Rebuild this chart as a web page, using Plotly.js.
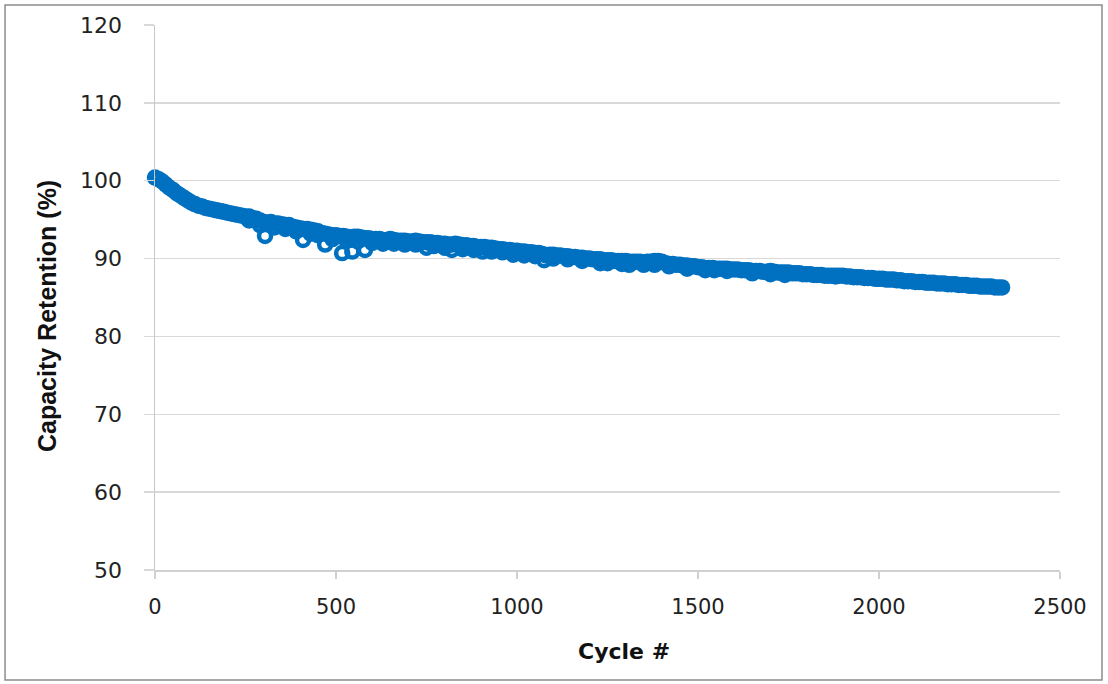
<!DOCTYPE html>
<html>
<head>
<meta charset="utf-8">
<script src="https://cdn.plot.ly/plotly-3.0.1.min.js"></script>
<style>
  html, body { margin: 0; padding: 0; background: #fff; }
  #chart { width: 1108px; height: 684px; }
</style>
</head>
<body>
<div id="chart"></div>
<script>
// cycle number and capacity retention (%), every 10 cycles
const cycles = [
    0, 10, 20, 30, 40, 50, 60, 70, 80, 90, 100,
    110, 120, 130, 140, 150, 160, 170, 180, 190, 200,
    210, 220, 230, 240, 250, 260, 270, 280, 290, 300,
    310, 320, 330, 340, 350, 360, 370, 380, 390, 400,
    410, 420, 430, 440, 450, 460, 470, 480, 490, 500,
    510, 520, 530, 540, 550, 560, 570, 580, 590, 600,
    610, 620, 630, 640, 650, 660, 670, 680, 690, 700,
    710, 720, 730, 740, 750, 760, 770, 780, 790, 800,
    810, 820, 830, 840, 850, 860, 870, 880, 890, 900,
    910, 920, 930, 940, 950, 960, 970, 980, 990, 1000,
    1010, 1020, 1030, 1040, 1050, 1060, 1070, 1080, 1090, 1100,
    1110, 1120, 1130, 1140, 1150, 1160, 1170, 1180, 1190, 1200,
    1210, 1220, 1230, 1240, 1250, 1260, 1270, 1280, 1290, 1300,
    1310, 1320, 1330, 1340, 1350, 1360, 1370, 1380, 1390, 1400,
    1410, 1420, 1430, 1440, 1450, 1460, 1470, 1480, 1490, 1500,
    1510, 1520, 1530, 1540, 1550, 1560, 1570, 1580, 1590, 1600,
    1610, 1620, 1630, 1640, 1650, 1660, 1670, 1680, 1690, 1700,
    1710, 1720, 1730, 1740, 1750, 1760, 1770, 1780, 1790, 1800,
    1810, 1820, 1830, 1840, 1850, 1860, 1870, 1880, 1890, 1900,
    1910, 1920, 1930, 1940, 1950, 1960, 1970, 1980, 1990, 2000,
    2010, 2020, 2030, 2040, 2050, 2060, 2070, 2080, 2090, 2100,
    2110, 2120, 2130, 2140, 2150, 2160, 2170, 2180, 2190, 2200,
    2210, 2220, 2230, 2240, 2250, 2260, 2270, 2280, 2290, 2300,
    2310, 2320, 2330, 2340
];
const retention = [
    100.4, 100.2, 99.9, 99.5, 99.1, 98.8, 98.4, 98.1, 97.8, 97.5, 97.2,
    97.0, 96.8, 96.7, 96.5, 96.4, 96.3, 96.2, 96.1, 96.0, 95.9,
    95.8, 95.7, 95.6, 95.5, 95.4, 95.4, 95.2, 95.1, 94.9, 94.7,
    94.6, 94.7, 94.5, 94.5, 94.4, 94.3, 94.3, 94.1, 94.0, 93.9,
    93.8, 93.8, 93.7, 93.6, 93.5, 93.3, 93.2, 93.1, 93.0, 93.0,
    92.9, 92.9, 92.8, 92.7, 92.8, 92.8, 92.7, 92.6, 92.6, 92.5,
    92.5, 92.5, 92.4, 92.4, 92.5, 92.4, 92.3, 92.3, 92.3, 92.2,
    92.2, 92.3, 92.2, 92.1, 92.1, 92.1, 92.0, 92.0, 91.9, 91.9,
    91.8, 91.8, 91.9, 91.8, 91.7, 91.7, 91.6, 91.6, 91.5, 91.5,
    91.5, 91.4, 91.4, 91.3, 91.2, 91.2, 91.1, 91.1, 91.0, 91.0,
    90.9, 90.9, 90.8, 90.8, 90.7, 90.7, 90.6, 90.4, 90.5, 90.5,
    90.4, 90.4, 90.3, 90.3, 90.2, 90.2, 90.1, 90.1, 90.0, 90.0,
    89.9, 89.9, 89.9, 89.8, 89.8, 89.8, 89.7, 89.7, 89.7, 89.7,
    89.6, 89.6, 89.6, 89.6, 89.5, 89.6, 89.6, 89.7, 89.7, 89.6,
    89.4, 89.3, 89.3, 89.2, 89.2, 89.1, 89.1, 89.0, 89.0, 88.9,
    88.9, 88.8, 88.8, 88.8, 88.7, 88.7, 88.7, 88.7, 88.6, 88.6,
    88.6, 88.5, 88.5, 88.5, 88.4, 88.4, 88.4, 88.3, 88.3, 88.4,
    88.3, 88.2, 88.2, 88.2, 88.2, 88.1, 88.1, 88.1, 88.0, 88.0,
    88.0, 87.9, 87.9, 87.9, 87.8, 87.8, 87.8, 87.8, 87.8, 87.8,
    87.7, 87.7, 87.6, 87.6, 87.6, 87.5, 87.5, 87.5, 87.4, 87.4,
    87.4, 87.3, 87.3, 87.3, 87.2, 87.2, 87.1, 87.1, 87.1, 87.0,
    87.0, 87.0, 86.9, 86.9, 86.9, 86.8, 86.8, 86.8, 86.7, 86.7,
    86.7, 86.6, 86.6, 86.6, 86.5, 86.5, 86.5, 86.4, 86.4, 86.4,
    86.4, 86.3, 86.3, 86.3
];
// scattered lower readings that widen the band, and clear dips under it
const spreadCycles = [
    260, 290, 330, 360, 390, 430, 450, 490, 530, 560, 600, 630, 690, 720, 770, 800,
    850, 880, 930, 960, 1020, 1050, 1100, 1140, 1180, 1250, 1310, 1350, 1420, 1470,
    1520, 1580, 1650, 1740
];
const spreadRetention = [
    94.9, 94.3, 94.0, 93.8, 93.5, 93.2, 93.0, 92.5, 92.3, 92.2, 92.0, 91.9, 91.8, 91.8, 91.6, 91.4,
    91.2, 91.1, 90.9, 90.8, 90.4, 90.3, 90.0, 89.9, 89.7, 89.4, 89.2, 89.2, 89.0, 88.7,
    88.5, 88.4, 88.1, 87.9
];
const outlierCycles = [304, 409, 470, 517, 545, 580, 660, 750, 820, 905, 990, 1075, 1230, 1290, 1380, 1545, 1700, 1880];
const outlierRetention = [92.9, 92.4, 91.8, 90.7, 90.9, 91.1, 91.9, 91.4, 91.1, 90.9, 90.5, 89.8, 89.4, 89.3, 89.2, 88.5, 88.0, 87.7];

const blue = '#0070C0';
const marker = {
    symbol: 'circle-open',
    size: 12,
    color: blue,
    line: {width: 4.5, color: blue}
};

function markers(x, y) {
    return {
        x: x,
        y: y,
        type: 'scatter',
        mode: 'markers',
        marker: marker,
        cliponaxis: false,
        hoverinfo: 'x+y',
    };
}

const traces = [
    markers(outlierCycles, outlierRetention),
    markers(spreadCycles, spreadRetention),
    markers(cycles, retention),
];

const xTickFont = {family: 'DejaVu Sans, Verdana, sans-serif', size: 21, color: '#222'};
const yTickFont = {family: 'DejaVu Sans, Verdana, sans-serif', size: 22, color: '#222'};
const xTitleFont = {family: 'DejaVu Sans, Verdana, sans-serif', size: 22, color: '#111', weight: 'bold'};
const yTitleFont = {family: 'Liberation Sans, Arial, sans-serif', size: 25, color: '#111', weight: 'bold'};

const layout = {
    width: 1108,
    height: 684,
    showlegend: false,
    paper_bgcolor: '#fff',
    plot_bgcolor: '#fff',
    margin: {l: 155, r: 48, t: 25, b: 114},
    xaxis: {
        range: [0, 2500],
        tickvals: [0, 500, 1000, 1500, 2000, 2500],
        showgrid: false,
        zeroline: false,
        showline: true,
        linecolor: '#d0d0d0',
        linewidth: 1.5,
        ticks: 'outside',
        ticklen: 7,
        tickcolor: '#d0d0d0',
        tickwidth: 1.5,
        ticklabelstandoff: 10,
        tickfont: xTickFont,
    },
    yaxis: {
        range: [50, 120],
        tickvals: [50, 60, 70, 80, 90, 100, 110, 120],
        showgrid: true,
        gridcolor: '#d9d9d9',
        gridwidth: 1.5,
        zeroline: false,
        showline: true,
        linecolor: '#c8c8c8',
        linewidth: 1.5,
        ticks: 'outside',
        ticklen: 10,
        tickcolor: '#d9d9d9',
        tickwidth: 1.5,
        ticklabelstandoff: 17,
        tickfont: yTickFont,
    },
    // axis titles sit off-centre in the reference, so they are placed as annotations
    annotations: [
        {
            text: 'Cycle #',
            xref: 'paper', yref: 'paper',
            x: 0.518, y: -0.150,
            xanchor: 'center', yanchor: 'middle',
            showarrow: false,
            font: xTitleFont,
        },
        {
            text: 'Capacity Retention (%)',
            xref: 'paper', yref: 'paper',
            x: -0.1193, y: 0.466,
            xanchor: 'center', yanchor: 'middle',
            textangle: -90,
            showarrow: false,
            font: yTitleFont,
        }
    ],
    shapes: [{
        type: 'rect',
        xref: 'paper', yref: 'paper',
        x0: -0.1657, x1: 1.0464,
        y0: -0.2018, y1: 1.0367,
        line: {color: '#8c8c8c', width: 1.5},
        layer: 'below'
    }],
};

Plotly.newPlot('chart', traces, layout, {displayModeBar: false, staticPlot: true});
</script>
</body>
</html>
